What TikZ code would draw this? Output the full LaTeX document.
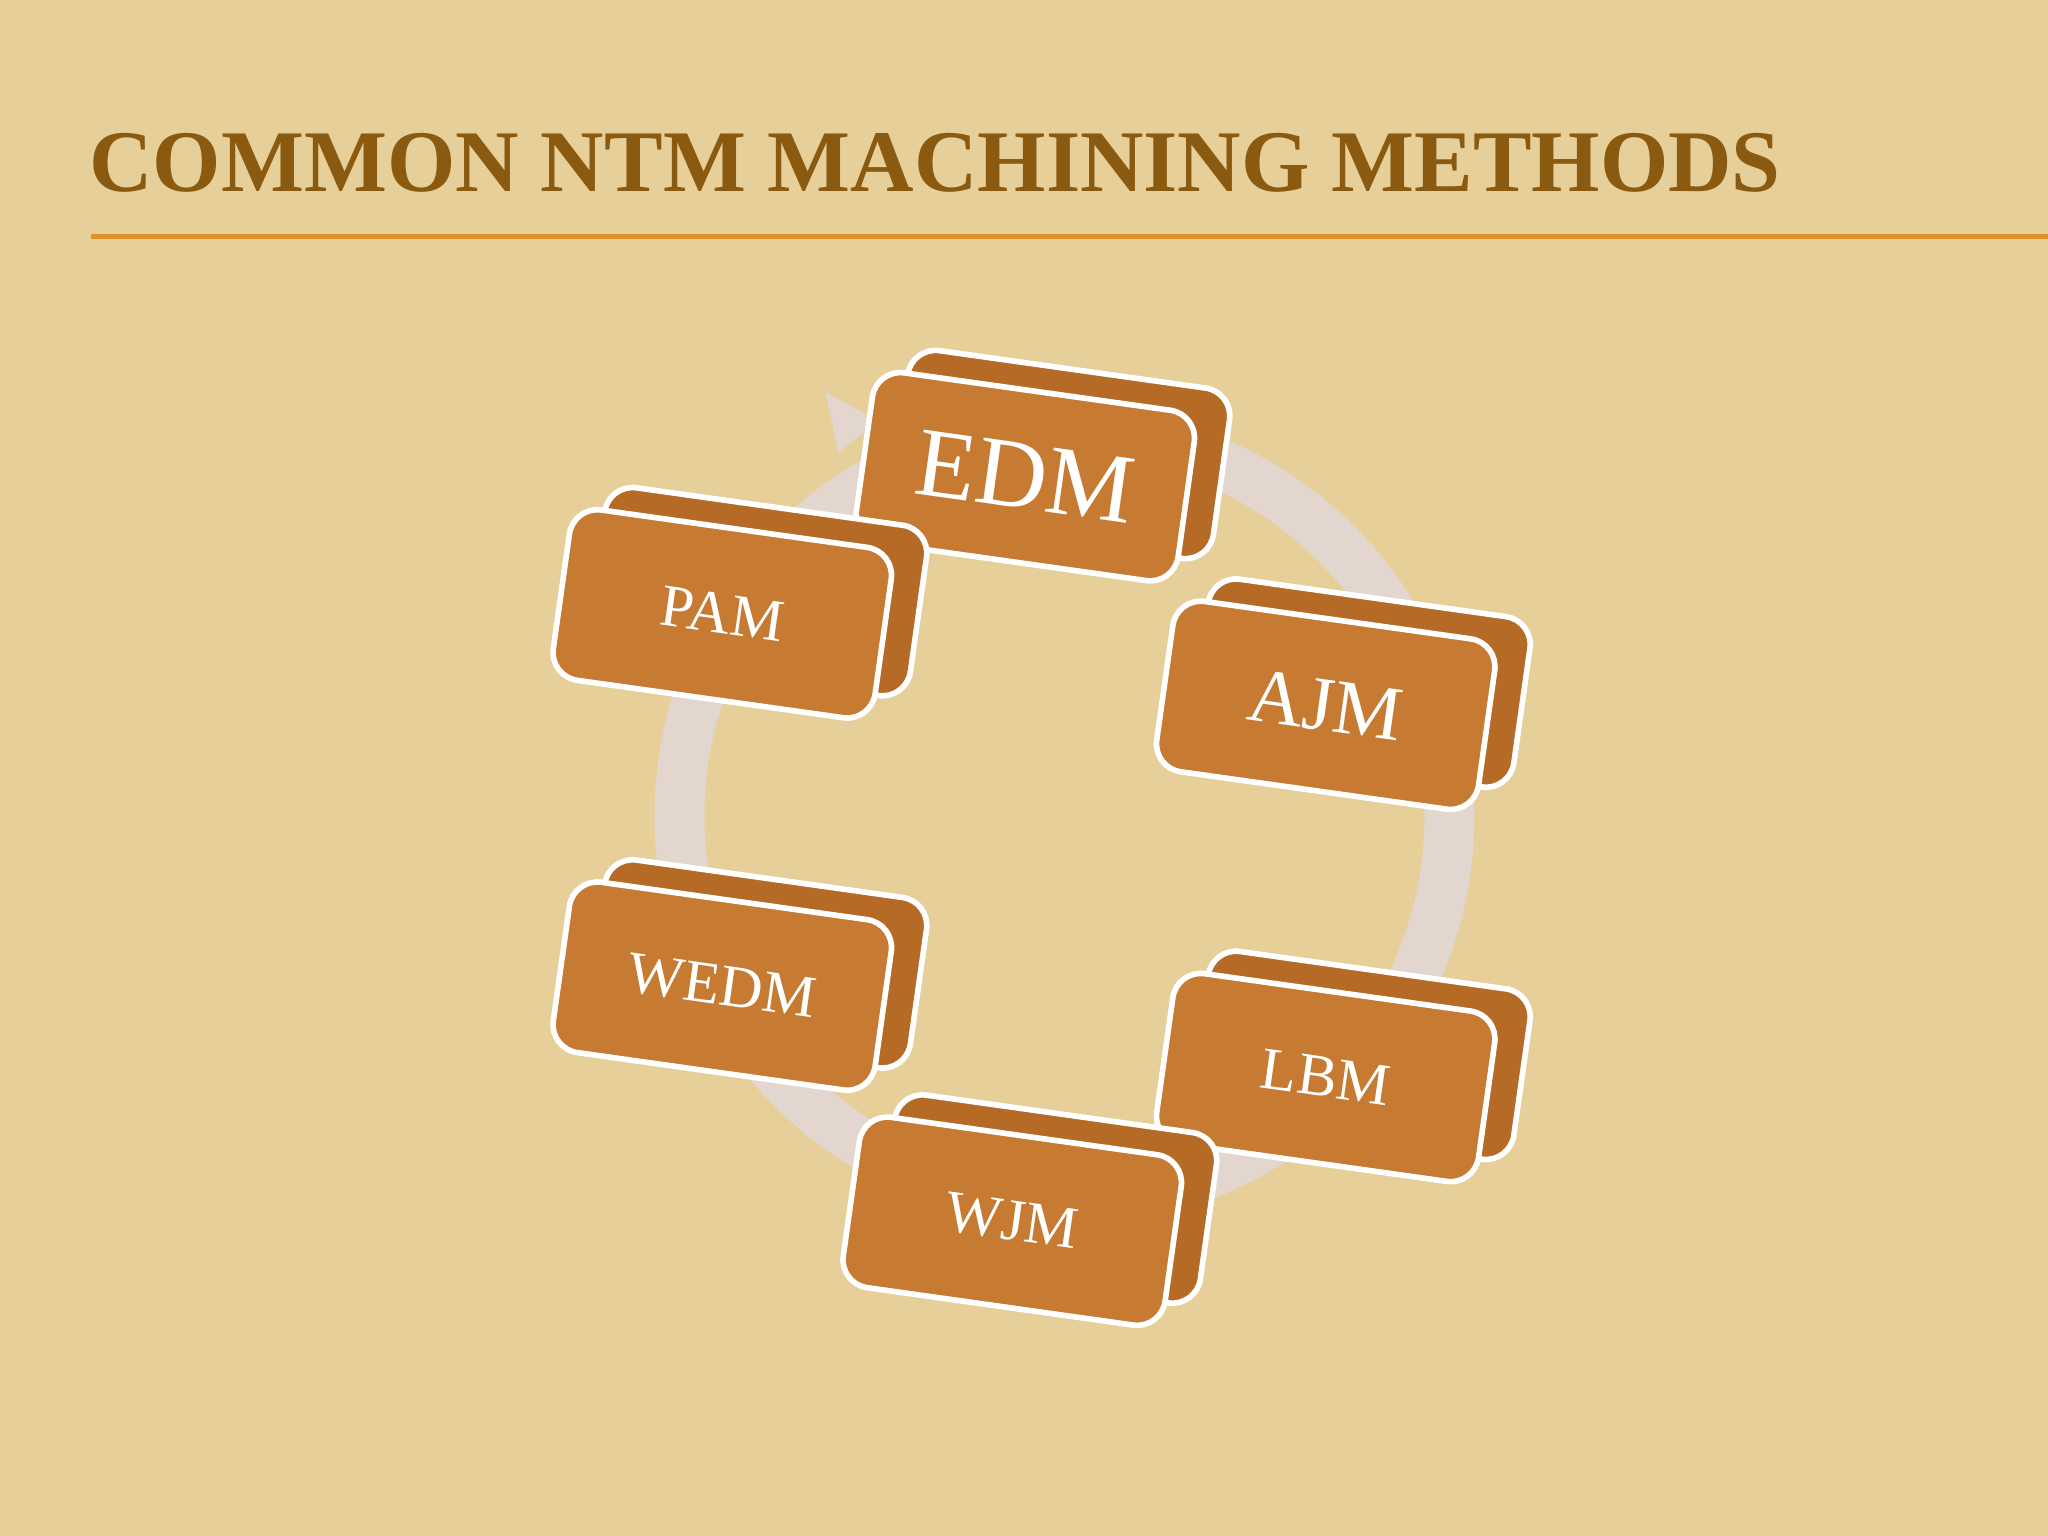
\documentclass[tikz,border=0pt]{standalone}
\usepackage{fontspec}
\setmainfont{Liberation Serif}
\definecolor{bg}{HTML}{E6CF98}
\definecolor{ttl}{HTML}{8A5A10}
\definecolor{boxf}{HTML}{C67A32}
\definecolor{boxs}{HTML}{B56A26}
\definecolor{ring}{HTML}{E3D6CE}
\definecolor{rule}{HTML}{E0912A}
\tikzset{
 back/.style={draw=white,line width=1.6pt,fill=boxs,rounded corners=8pt,minimum width=3.25cm,minimum height=1.72cm,rotate=-8},
 front/.style={draw=white,line width=1.6pt,fill=boxf,rounded corners=8pt,minimum width=3.25cm,minimum height=1.72cm,rotate=-8},
 lbl/.style={text=white,rotate=-8,font=\fontsize{17}{20}\selectfont},
}
\begin{document}
\begin{tikzpicture}[x=0.01306cm,y=0.01306cm]
\fill[bg] (0,0) rectangle (1568,-1176);
\useasboundingbox (0,0) rectangle (1568,-1176);
\node[anchor=west,text=ttl,font=\bfseries\fontsize{25}{30}\selectfont,inner sep=0] (title) at (68,-125) {COMMON NTM MACHINING METHODS};
\coordinate (r1) at (70,-181); \coordinate (r2) at (1568,-181);
\draw[rule,line width=1.2pt] (r1) -- (r2);
\node[circle,draw=ring,line width=0.5cm,minimum size=7.7cm] (ring) at (815,-625) {};
\coordinate (ah) at (650,-320);
\fill[ring] (ah) ++(-18,20) -- ++(40,-22) -- ++(-30,-25) -- cycle;
\foreach \n/\x/\y in {edm/785/365,pam/553/470,ajm/1015/540,wedm/553/755,lbm/1015/825,wjm/775/935}{
 \node[back] (\n b) at (\x+27,-\y+17) {};
 \node[front] (\n) at (\x,-\y) {};
}
\node[lbl,font=\fontsize{28}{30}\selectfont] (edmt) at (edm) {EDM};
\node[lbl,font=\fontsize{22}{24}\selectfont] (ajmt) at (ajm) {AJM};
\node[lbl] (pamt) at (pam) {PAM};
\node[lbl] (wedmt) at (wedm) {WEDM};
\node[lbl] (lbmt) at (lbm) {LBM};
\node[lbl] (wjmt) at (wjm) {WJM};
\end{tikzpicture}
\end{document}
